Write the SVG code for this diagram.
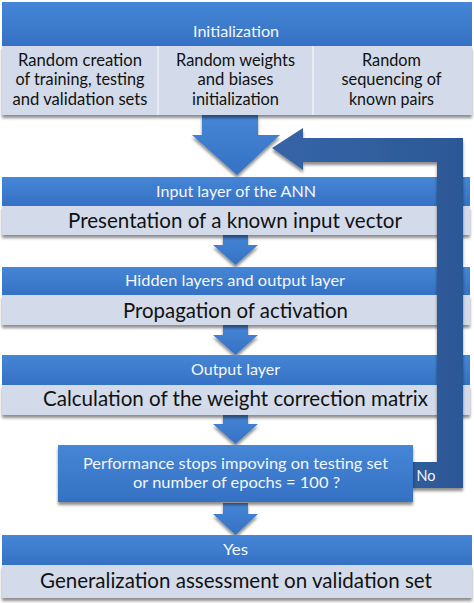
<svg xmlns="http://www.w3.org/2000/svg" width="474" height="603" viewBox="0 0 474 603">
  <defs>
    <linearGradient id="blue" x1="0" y1="0" x2="0" y2="1">
      <stop offset="0" stop-color="#4686d6"/>
      <stop offset="1" stop-color="#3571c4"/>
    </linearGradient>
    <linearGradient id="dark" x1="0" y1="0" x2="1" y2="0">
      <stop offset="0" stop-color="#3565a8"/>
      <stop offset="1" stop-color="#2c5896"/>
    </linearGradient>
    <filter id="sh" x="-5%" y="-20%" width="110%" height="150%">
      <feGaussianBlur in="SourceAlpha" stdDeviation="1.5"/>
      <feOffset dx="0" dy="2.5" result="b"/>
      <feComponentTransfer><feFuncA type="linear" slope="0.45"/></feComponentTransfer>
      <feMerge><feMergeNode/><feMergeNode in="SourceGraphic"/></feMerge>
    </filter>
  </defs>
  <style>
    .hdr{fill:url(#blue)}
    .bdy{fill:#d3dbea}
    .arr{fill:url(#blue)}
    .ht{font-family:Lato,"Liberation Sans",sans-serif;font-size:15px;fill:#f4f7fc;text-anchor:middle}
    .ct{font-family:Lato,"Liberation Sans",sans-serif;font-size:16.5px;fill:#111111;text-anchor:middle}
    .bt{font-family:Lato,"Liberation Sans",sans-serif;font-size:21px;fill:#111111;text-anchor:middle}
    .sep{stroke:#eef1f7;stroke-width:1.5}
  </style>

  <g id="connectors">
    <polygon class="arr" filter="url(#sh)" points="202,115 258,115 258,135 280,135 237,175 192,135 202,135"/>
    <polygon class="arr" filter="url(#sh)" points="223,235 248,235 248,245 258,245 235.5,265 213,245 223,245"/>
    <polygon class="arr" filter="url(#sh)" points="223,325 248,325 248,335 258,335 235.5,355 213,335 223,335"/>
    <polygon class="arr" filter="url(#sh)" points="223,415 248,415 248,424 258,424 235.5,444 213,424 223,424"/>
    <polygon class="arr" filter="url(#sh)" points="223,503 248,503 248,514 258,514 235.5,535 213,514 223,514"/>
  </g>

  <g id="init">
    <rect class="hdr" x="2" y="2" width="470" height="44"/>
    <rect class="bdy" x="2" y="46" width="470" height="69" filter="url(#sh)"/>
    <line class="sep" x1="158" y1="46" x2="158" y2="115"/>
    <line class="sep" x1="313" y1="46" x2="313" y2="115"/>
    <text class="ht" x="236" y="37" textLength="86" lengthAdjust="spacingAndGlyphs">Initialization</text>
    <text class="ct" x="80" y="66" textLength="124" lengthAdjust="spacingAndGlyphs">Random creation</text>
    <text class="ct" x="80" y="85" textLength="129" lengthAdjust="spacingAndGlyphs">of training, testing</text>
    <text class="ct" x="80" y="105" textLength="135" lengthAdjust="spacingAndGlyphs">and validation sets</text>
    <text class="ct" x="235.5" y="66" textLength="119" lengthAdjust="spacingAndGlyphs">Random weights</text>
    <text class="ct" x="235.5" y="85" textLength="76" lengthAdjust="spacingAndGlyphs">and biases</text>
    <text class="ct" x="235.5" y="105" textLength="87" lengthAdjust="spacingAndGlyphs">initialization</text>
    <text class="ct" x="391.5" y="66" textLength="59" lengthAdjust="spacingAndGlyphs">Random</text>
    <text class="ct" x="391.5" y="85" textLength="100" lengthAdjust="spacingAndGlyphs">sequencing of</text>
    <text class="ct" x="391.5" y="105" textLength="85" lengthAdjust="spacingAndGlyphs">known pairs</text>
  </g>

  <g id="input">
    <rect class="hdr" x="2" y="177" width="468" height="29"/>
    <rect class="bdy" x="2" y="206" width="468" height="29" filter="url(#sh)"/>
    <text class="ht" x="236" y="197" textLength="160" lengthAdjust="spacingAndGlyphs">Input layer of the ANN</text>
    <text class="bt" x="235" y="228" textLength="334" lengthAdjust="spacingAndGlyphs">Presentation of a known input vector</text>
  </g>

  <g id="hidden">
    <rect class="hdr" x="2" y="267" width="468" height="28"/>
    <rect class="bdy" x="2" y="295" width="468" height="30" filter="url(#sh)"/>
    <text class="ht" x="235" y="286" textLength="220" lengthAdjust="spacingAndGlyphs">Hidden layers and output layer</text>
    <text class="bt" x="235.5" y="318" textLength="225" lengthAdjust="spacingAndGlyphs">Propagation of activation</text>
  </g>

  <g id="output">
    <rect class="hdr" x="2" y="355" width="468" height="30"/>
    <rect class="bdy" x="2" y="385" width="468" height="30" filter="url(#sh)"/>
    <text class="ht" x="235.5" y="375" textLength="89" lengthAdjust="spacingAndGlyphs">Output layer</text>
    <text class="bt" x="235.5" y="406" textLength="385" lengthAdjust="spacingAndGlyphs">Calculation of the weight correction matrix</text>
  </g>

  <g id="feedback">
    <polygon fill="url(#dark)" filter="url(#sh)" points="412,462 437,462 437,162 303,162 303,170 272,148 303,128 303,138 463,138 463,488 412,488"/>
    <text class="ht" x="426" y="481" font-size="16" textLength="19" lengthAdjust="spacingAndGlyphs">No</text>
  </g>

  <g id="decision">
    <rect class="hdr" x="58" y="445" width="355" height="57" filter="url(#sh)"/>
    <text class="ht" x="235.5" y="469" textLength="305" lengthAdjust="spacingAndGlyphs">Performance stops impoving on testing set</text>
    <text class="ht" x="236.5" y="488" textLength="207" lengthAdjust="spacingAndGlyphs">or number of epochs = 100 ?</text>
  </g>

  <g id="final">
    <rect class="hdr" x="2" y="535" width="470" height="30"/>
    <rect class="bdy" x="2" y="565" width="470" height="33" filter="url(#sh)"/>
    <text class="ht" x="235.5" y="555" textLength="25" lengthAdjust="spacingAndGlyphs">Yes</text>
    <text class="bt" x="236" y="588" textLength="392" lengthAdjust="spacingAndGlyphs">Generalization assessment on validation set</text>
  </g>
</svg>
